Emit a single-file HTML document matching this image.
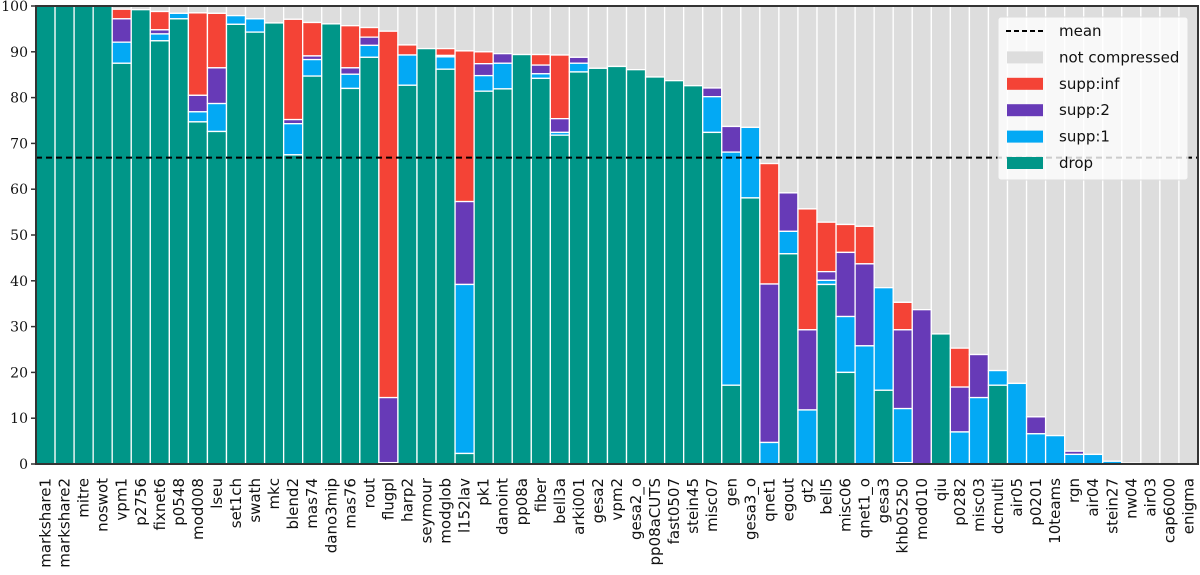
<!DOCTYPE html>
<html><head><meta charset="utf-8"><style>
html,body{margin:0;padding:0;background:#fff;}
svg{display:block;}
</style></head><body>
<svg id="chart" width="1200" height="575" xmlns="http://www.w3.org/2000/svg">
<g id="bars"></g>
<g id="axes"></g>
</svg>
<script>
const categories = ["markshare1","markshare2","mitre","noswot","vpm1","p2756","fixnet6","p0548","mod008","lseu","set1ch","swath","mkc","blend2","mas74","dano3mip","mas76","rout","flugpl","harp2","seymour","modglob","l152lav","pk1","danoint","pp08a","fiber","bell3a","arki001","gesa2","vpm2","gesa2_o","pp08aCUTS","fast0507","stein45","misc07","gen","gesa3_o","qnet1","egout","gt2","bell5","misc06","qnet1_o","gesa3","khb05250","mod010","qiu","p0282","misc03","dcmulti","air05","p0201","10teams","rgn","air04","stein27","nw04","air03","cap6000","enigma"];
// cumulative tops of each stacked segment (percent)
const dropTop = [100,100,100,100,87.5,99.2,92.4,97.2,74.7,72.6,96.0,94.3,96.3,67.5,84.7,96.1,82.0,88.8,0,82.7,90.7,86.2,2.3,81.4,81.9,89.4,84.2,71.8,85.6,86.4,86.8,86.1,84.5,83.7,82.6,72.4,17.2,58.1,0,45.9,0,39.2,20.0,0,16.1,0.3,0,28.4,0,0,17.2,0,0,0,0,0,0,0,0,0,0];
const supp1Top = [100,100,100,100,92.1,99.2,93.9,98.4,76.9,78.7,97.9,97.2,96.3,74.3,88.3,96.1,85.1,91.4,0.3,89.3,90.7,88.9,39.2,84.8,87.5,89.4,85.2,72.4,87.5,86.4,86.8,86.1,84.5,83.7,82.6,80.2,68.1,73.5,4.7,50.8,11.8,40.1,32.2,25.8,38.5,12.1,0,28.4,7.0,14.5,20.4,17.6,6.6,6.2,2.1,2.1,0.6,0.2,0,0,0];
const supp2Top = [100,100,100,100,97.2,99.2,94.8,98.4,80.5,86.5,97.9,97.2,96.3,75.2,89.1,96.1,86.5,93.2,14.5,89.3,90.7,89.2,57.3,87.4,89.6,89.4,87.1,75.4,88.8,86.4,86.8,86.1,84.5,83.7,82.6,82.1,73.7,73.5,39.3,59.2,29.3,42.0,46.2,43.7,38.5,29.3,33.7,28.4,16.8,23.9,20.4,17.6,10.3,6.2,2.8,2.1,0.6,0.2,0,0,0];
const infTop = [100,100,100,100,99.3,99.2,98.8,98.4,98.5,98.4,97.9,97.2,96.3,97.1,96.4,96.1,95.7,95.3,94.5,91.5,90.7,90.7,90.2,90.0,89.6,89.4,89.4,89.3,88.8,86.4,86.8,86.1,84.5,83.7,82.6,82.1,73.7,73.5,65.6,59.2,55.7,52.8,52.3,51.9,38.5,35.3,33.7,28.4,25.3,23.9,20.4,17.6,10.3,6.2,2.8,2.1,0.6,0.2,0,0,0];
const meanValue = [66.9];
const yTicks = [0,10,20,30,40,50,60,70,80,90,100];

const X0=36, X1=1198, Y0=464, Y1=6;
const step=(X1-X0)/categories.length;
const xPos=i=>X0+i*step;
const yPos=v=>Y0-(v/100)*(Y0-Y1);
const NS="http://www.w3.org/2000/svg";
const bars=document.getElementById('bars');
const axes=document.getElementById('axes');
const colors={gray:"#dddddd",inf:"#f44336",s2:"#673ab7",s1:"#03a9f4",drop:"#009688"};
function rect(g,x,y,w,h,fill){const r=document.createElementNS(NS,'rect');r.setAttribute('x',x);r.setAttribute('y',y);r.setAttribute('width',w);r.setAttribute('height',Math.max(0,h));r.setAttribute('fill',fill);r.setAttribute('stroke','#fff');r.setAttribute('stroke-width','1.3');g.appendChild(r);return r;}
categories.forEach((c,i)=>{
  const x=xPos(i), w=step;
  const segs=[["not-compressed",infTop[i],100,colors.gray],["supp-inf",supp2Top[i],infTop[i],colors.inf],["supp-2",supp1Top[i],supp2Top[i],colors.s2],["supp-1",dropTop[i],supp1Top[i],colors.s1],["drop",0,dropTop[i],colors.drop]];
  segs.forEach(s=>{
    if(s[2]-s[1]<=0.05) return;
    const r=rect(bars,x,yPos(s[2]),w,yPos(s[1])-yPos(s[2]),s[3]);
    
    
  });
  const t=document.createElementNS(NS,'text');
  const tx=x+w/2+5, ty=Y0+14;
  t.setAttribute('x',tx);t.setAttribute('y',ty);
  t.setAttribute('transform','rotate(-90 '+tx+' '+ty+')');
  t.setAttribute('text-anchor','end');
  t.setAttribute('font-family','"DejaVu Sans","Liberation Sans",sans-serif');
  t.setAttribute('font-size','15');t.setAttribute('fill','#111');
  t.textContent=c;
  
  
  axes.appendChild(t);
});
// mean line
const ml=document.createElementNS(NS,'line');
ml.setAttribute('x1',X0);ml.setAttribute('x2',X1);ml.setAttribute('y1',yPos(meanValue[0]));ml.setAttribute('y2',yPos(meanValue[0]));
ml.setAttribute('stroke','#000');ml.setAttribute('stroke-width','2');ml.setAttribute('stroke-dasharray','6,4');


bars.appendChild(ml);
// frame
const fr=document.createElementNS(NS,'rect');
fr.setAttribute('x',X0);fr.setAttribute('y',Y1);fr.setAttribute('width',X1-X0);fr.setAttribute('height',Y0-Y1);
fr.setAttribute('fill','none');fr.setAttribute('stroke','#333');fr.setAttribute('stroke-width','2');


axes.appendChild(fr);
yTicks.forEach(v=>{
  const y=yPos(v);
  const l=document.createElementNS(NS,'line');
  l.setAttribute('x1',X0-5);l.setAttribute('x2',X0);l.setAttribute('y1',y);l.setAttribute('y2',y);
  l.setAttribute('stroke','#333');l.setAttribute('stroke-width','1.5');
  
  
  axes.appendChild(l);
  const t=document.createElementNS(NS,'text');
  t.setAttribute('x',X0-8);t.setAttribute('y',y+5);t.setAttribute('text-anchor','end');
  t.setAttribute('font-family','"DejaVu Serif","Liberation Serif",serif');t.setAttribute('font-size','14');t.setAttribute('fill','#111');
  t.textContent=v;
  
  
  axes.appendChild(t);
});
// legend
const lg=document.createElementNS(NS,'g');


axes.appendChild(lg);
const lb=document.createElementNS(NS,'rect');
lb.setAttribute('x',998);lb.setAttribute('y',17);lb.setAttribute('width',190);lb.setAttribute('height',163);lb.setAttribute('rx',3);
lb.setAttribute('fill','#fff');lb.setAttribute('fill-opacity','0.8');lb.setAttribute('stroke','#ddd');
lg.appendChild(lb);
const entries=[["mean",null],["not compressed",colors.gray],["supp:inf",colors.inf],["supp:2",colors.s2],["supp:1",colors.s1],["drop",colors.drop]];
entries.forEach((e,k)=>{
  const y=31+k*26.4;
  const g=document.createElementNS(NS,'g');
  
  
  lg.appendChild(g);
  if(e[1]===null){
    const l=document.createElementNS(NS,'line');
    l.setAttribute('x1',1006);l.setAttribute('x2',1044);l.setAttribute('y1',y);l.setAttribute('y2',y);
    l.setAttribute('stroke','#000');l.setAttribute('stroke-width','2');l.setAttribute('stroke-dasharray','5,3');
    g.appendChild(l);
  } else {
    const r=document.createElementNS(NS,'rect');
    r.setAttribute('x',1007);r.setAttribute('y',y-6);r.setAttribute('width',36);r.setAttribute('height',12);r.setAttribute('fill',e[1]);
    g.appendChild(r);
  }
  const t=document.createElementNS(NS,'text');
  t.setAttribute('x',1059);t.setAttribute('y',y+5);
  t.setAttribute('font-family','"DejaVu Sans","Liberation Sans",sans-serif');t.setAttribute('font-size','15');t.setAttribute('fill','#111');
  t.textContent=e[0];
  g.appendChild(t);
});
</script>
</body></html>
